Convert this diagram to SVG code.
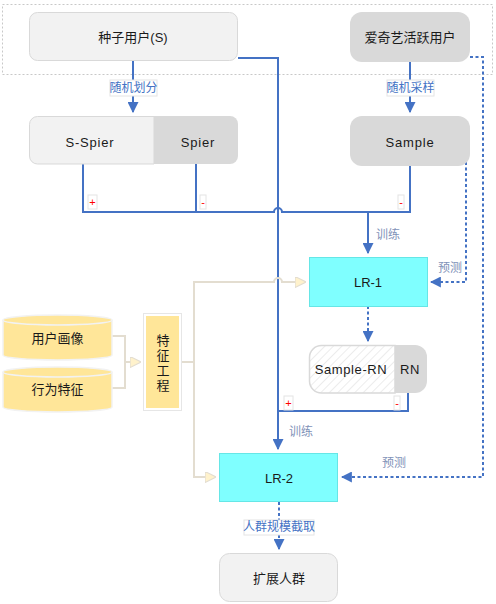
<svg xmlns="http://www.w3.org/2000/svg" width="496" height="604" viewBox="0 0 496 604">
<style>
text{font-family:"Liberation Sans","Noto Sans CJK SC",sans-serif;font-size:13px;fill:#1a1a1a;text-anchor:middle;dominant-baseline:central}
.lbl{font-size:12px;fill:#4472c4}
.lbl2{font-size:12px;fill:#7f92b8}
.pm{font-size:11px;fill:#ff0000}
.blue{fill:none;stroke:#4472c4;stroke-width:2}
.dash{fill:none;stroke:#4472c4;stroke-width:2;stroke-dasharray:3 2.5}
.beige{fill:none;stroke:#e3ddd0;stroke-width:2}
.lbox{fill:#fff;stroke:#e4e4e4;stroke-width:1}
</style>
<defs>
<marker id="ab" viewBox="0 0 10 10" refX="9" refY="5" markerWidth="5.5" markerHeight="5.5" orient="auto" markerUnits="strokeWidth"><path d="M0,0 L10,5 L0,10 z" fill="#4472c4"/></marker>
<marker id="ay" viewBox="0 0 10 10" refX="9" refY="5" markerWidth="5.5" markerHeight="5.5" orient="auto" markerUnits="strokeWidth"><path d="M0,0 L10,5 L0,10 z" fill="#fff2cc" stroke="#e3ddd0" stroke-width="1"/></marker>
<pattern id="hatch" width="6" height="6" patternUnits="userSpaceOnUse" patternTransform="rotate(45)"><rect width="6" height="6" fill="#fff"/><line x1="0" y1="0" x2="0" y2="6" stroke="#d9d9d9" stroke-width="1"/></pattern>
</defs>
<rect x="2.5" y="4.5" width="490" height="70" fill="none" stroke="#c8c8c8" stroke-dasharray="2 2"/>
<g id="connectors">
<path class="blue" d="M133,61 V112" marker-end="url(#ab)"/>
<path class="blue" d="M410,62 V112" marker-end="url(#ab)"/>
<path class="blue" d="M238,58 H278 V449" marker-end="url(#ab)"/>
<path class="dash" d="M470,57 H483 V477 H342" marker-end="url(#ab)"/>
<path class="blue" d="M83,164 V212 H274 a4,4 0 0 1 8,0 H410 V166"/>
<path class="blue" d="M196,164 V212"/>
<path class="blue" d="M368,212 V253" marker-end="url(#ab)"/>
<path class="dash" d="M466,162 V282 H431" marker-end="url(#ab)"/>
<path class="dash" d="M368,306 V341" marker-end="url(#ab)"/>
<path class="blue" d="M408,393 V411 H278"/>
<path class="dash" d="M279,502 V549" marker-end="url(#ab)"/>
<path class="beige" d="M112,336 H125 V388 H112"/>
<path class="beige" d="M125,362 H140" marker-end="url(#ay)"/>
<path class="beige" d="M182,362 H194 V282 H274 a4,4 0 0 1 8,0 H305" marker-end="url(#ay)"/>
<path class="beige" d="M194,362 V477 H215" marker-end="url(#ay)"/>
<rect class="lbox" x="110" y="80" width="47" height="16"/><text class="lbl" x="133.5" y="88">随机划分</text>
<rect class="lbox" x="387" y="80" width="47" height="16"/><text class="lbl" x="410.5" y="88">随机采样</text>
<text class="lbl2" x="388" y="235">训练</text>
<text class="lbl2" x="450" y="268">预测</text>
<text class="lbl2" x="301" y="432">训练</text>
<text class="lbl2" x="394" y="463">预测</text>
<rect class="lbox" x="244" y="520" width="70" height="15"/><text class="lbl" x="279" y="527">人群规模截取</text>
<rect class="lbox" x="88" y="195" width="9" height="14"/><text class="pm" x="92.5" y="202">+</text>
<rect class="lbox" x="200" y="195" width="6" height="14"/><text class="pm" x="203" y="202">-</text>
<rect class="lbox" x="398" y="195" width="6" height="14"/><text class="pm" x="401" y="202">-</text>
<rect class="lbox" x="284" y="396" width="9" height="14"/><text class="pm" x="288.5" y="403">+</text>
<rect class="lbox" x="394" y="396" width="6" height="14"/><text class="pm" x="397" y="403">-</text>
</g>
<g id="seed">
<rect x="29.5" y="12.5" width="208" height="48" rx="8" fill="#f2f2f2" stroke="#d9d9d9"/>
<text x="133" y="37">种子用户(S)</text>
</g>
<g id="active">
<rect x="350" y="12" width="120" height="50" rx="12" fill="#d9d9d9"/>
<text x="410" y="37">爱奇艺活跃用户</text>
</g>
<g id="sspier">
<path d="M154,116.5 H37.5 a8,8 0 0 0 -8,8 V156 a8,8 0 0 0 8,8 H154 z" fill="#f2f2f2" stroke="#d9d9d9"/>
<path d="M154,116 H230 a8,8 0 0 1 8,8 V156 a8,8 0 0 1 -8,8 H154 z" fill="#d9d9d9"/>
<text x="90" y="142" letter-spacing="0.8">S-Spier</text>
<text x="198" y="142" letter-spacing="0.8">Spier</text>
</g>
<g id="sample">
<rect x="350" y="116" width="120" height="50" rx="12" fill="#d9d9d9"/>
<text x="410" y="142" letter-spacing="0.8">Sample</text>
</g>
<g id="lr1">
<rect x="309.5" y="257.5" width="118" height="49" fill="#7fffff" stroke="#66e6e6"/>
<text x="368" y="282">LR-1</text>
</g>
<g id="samplern">
<path d="M395,345.5 H321.5 a12,12 0 0 0 -12,12 V381 a12,12 0 0 0 12,12 H395 z" fill="url(#hatch)" stroke="#d9d9d9" stroke-width="1.5"/>
<path d="M395,345 H415 a12,12 0 0 1 12,12 V381 a12,12 0 0 1 -12,12 H395 z" fill="#d9d9d9"/>
<text x="351" y="369" letter-spacing="0.6">Sample-RN</text>
<text x="410" y="369" letter-spacing="0.6">RN</text>
</g>
<g id="lr2">
<rect x="219.5" y="453.5" width="118" height="48" fill="#7fffff" stroke="#66e6e6"/>
<text x="279" y="478">LR-2</text>
</g>
<g id="expand">
<rect x="219.5" y="553.5" width="118" height="48" rx="10" fill="#f2f2f2" stroke="#d9d9d9"/>
<text x="279" y="578">扩展人群</text>
</g>
<g id="profile">
<path d="M3,320 V355 A54.5,5 0 0 0 112,355 V320" fill="#ffe699" stroke="#f2f2f2" stroke-width="1.5"/>
<ellipse cx="57.5" cy="320" rx="54.5" ry="5" fill="#ffe699" stroke="#f2f2f2" stroke-width="1.5"/>
<text x="57.5" y="338">用户画像</text>
</g>
<g id="behavior">
<path d="M3,372 V407 A54.5,5 0 0 0 112,407 V372" fill="#ffe699" stroke="#f2f2f2" stroke-width="1.5"/>
<ellipse cx="57.5" cy="372" rx="54.5" ry="5" fill="#ffe699" stroke="#f2f2f2" stroke-width="1.5"/>
<text x="57.5" y="389">行为特征</text>
</g>
<g id="feature">
<rect x="143.5" y="313.5" width="38" height="97" fill="#fff" stroke="#e6e6e6"/>
<rect x="146" y="316" width="33" height="92" fill="#ffe699"/>
<text x="163" y="340">特</text>
<text x="163" y="355">征</text>
<text x="163" y="370">工</text>
<text x="163" y="385">程</text>
</g>
</svg>
